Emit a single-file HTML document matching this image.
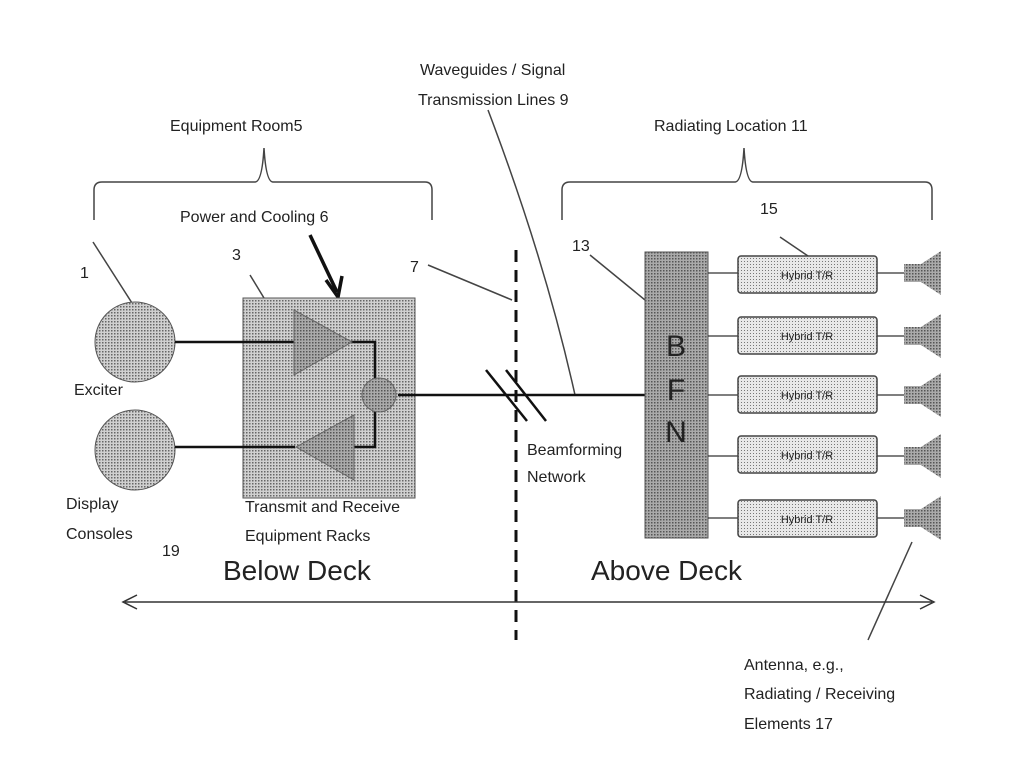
<!DOCTYPE html>
<html><head><style>body{margin:0;background:#fff}svg{display:block}text{font-family:"Liberation Sans",sans-serif;fill:#222}</style></head><body>
<svg width="1030" height="768" viewBox="0 0 1030 768" xmlns="http://www.w3.org/2000/svg">
<defs>
<pattern id="d1" width="3" height="3" patternUnits="userSpaceOnUse"><rect width="3" height="3" fill="#e8e8e8"/><rect width="1" height="1" fill="#777"/></pattern>
<pattern id="d2" width="3" height="3" patternUnits="userSpaceOnUse"><rect width="3" height="3" fill="#d0d0d0"/><rect width="1.5" height="1.5" fill="#666"/></pattern>
<pattern id="d4" width="3" height="3" patternUnits="userSpaceOnUse"><rect width="3" height="3" fill="#aaa"/><rect width="1.5" height="1.5" fill="#555"/></pattern>
</defs>
<g fill="none" stroke="#444" stroke-width="1.5">
<path d="M94,220 V190 Q94,182 102,182 H255 Q262,182 264,148 Q266,182 273,182 H425 Q432,182 432,190 V220"/>
<path d="M562,220 V190 Q562,182 570,182 H735 Q742,182 744,148 Q746,182 753,182 H925 Q932,182 932,190 V220"/>
<line x1="93" y1="242" x2="132" y2="303"/>
<line x1="250" y1="275" x2="264" y2="298"/>
<line x1="428" y1="265" x2="512" y2="300"/>
<line x1="590" y1="255" x2="645" y2="300"/>
<line x1="780" y1="237" x2="808" y2="256"/>
<path d="M488,110 Q545,260 575,395"/>
<line x1="912" y1="542" x2="868" y2="640"/>
</g>
<line x1="516" y1="250" x2="516" y2="640" stroke="#111" stroke-width="3" stroke-dasharray="12,8"/>
<line x1="310" y1="235" x2="337" y2="292" stroke="#111" stroke-width="3.5"/>
<path d="M326,280 L338,297 L342,276" fill="none" stroke="#111" stroke-width="3.5"/>
<line x1="125" y1="602" x2="932" y2="602" stroke="#333" stroke-width="1.5"/>
<path d="M137,595 L123,602 L137,609 M920,595 L934,602 L920,609" fill="none" stroke="#333" stroke-width="1.5"/>
<rect x="243" y="298" width="172" height="200" fill="url(#d2)" stroke="#555"/>
<circle cx="135" cy="342" r="40" fill="url(#d2)" stroke="#555"/>
<circle cx="135" cy="450" r="40" fill="url(#d2)" stroke="#555"/>
<g stroke="#111" stroke-width="2.5" fill="none">
<line x1="175" y1="342" x2="295" y2="342"/>
<line x1="175" y1="447" x2="295" y2="447"/>
<path d="M350,342 H375 V380 M375,410 V447 H350"/>
<line x1="398" y1="395" x2="645" y2="395"/>
<line x1="486" y1="370" x2="527" y2="421"/>
<line x1="506" y1="370" x2="546" y2="421"/>
</g>
<path d="M294,310 L352,342 L294,375 Z" fill="url(#d4)" stroke="#666"/>
<path d="M354,415 L296,447 L354,480 Z" fill="url(#d4)" stroke="#666"/>
<circle cx="379" cy="395" r="17" fill="url(#d4)" stroke="#666"/>
<rect x="645" y="252" width="63" height="286" fill="url(#d4)" stroke="#555"/>
<text x="676" y="356" font-size="30" text-anchor="middle" fill="#222">B</text>
<text x="676" y="400" font-size="30" text-anchor="middle">F</text>
<text x="676" y="442" font-size="30" text-anchor="middle">N</text>
<g stroke="#333" stroke-width="1.2">
<line x1="708" y1="273" x2="738" y2="273"/><line x1="877" y1="273" x2="904" y2="273"/>
<line x1="708" y1="336" x2="738" y2="336"/><line x1="877" y1="336" x2="904" y2="336"/>
<line x1="708" y1="395" x2="738" y2="395"/><line x1="877" y1="395" x2="904" y2="395"/>
<line x1="708" y1="456" x2="738" y2="456"/><line x1="877" y1="456" x2="904" y2="456"/>
<line x1="708" y1="518" x2="738" y2="518"/><line x1="877" y1="518" x2="904" y2="518"/>
</g>
<g fill="url(#d1)" stroke="#444" stroke-width="1.5">
<rect x="738" y="256" width="139" height="37" rx="3"/>
<rect x="738" y="317" width="139" height="37" rx="3"/>
<rect x="738" y="376" width="139" height="37" rx="3"/>
<rect x="738" y="436" width="139" height="37" rx="3"/>
<rect x="738" y="500" width="139" height="37" rx="3"/>
</g>
<g fill="url(#d4)">
<path d="M904,264 h17 l20,-13 v44 l-20,-13 h-17 Z"/>
<path d="M904,327 h17 l20,-13 v44 l-20,-13 h-17 Z"/>
<path d="M904,386 h17 l20,-13 v44 l-20,-13 h-17 Z"/>
<path d="M904,447 h17 l20,-13 v44 l-20,-13 h-17 Z"/>
<path d="M904,509 h17 l20,-13 v44 l-20,-13 h-17 Z"/>
</g>
<g font-size="11" text-anchor="middle">
<text x="807" y="279" fill="#666">Hybrid T/R</text>
<text x="807" y="340" fill="#666">Hybrid T/R</text>
<text x="807" y="399" fill="#666">Hybrid T/R</text>
<text x="807" y="459" fill="#666">Hybrid T/R</text>
<text x="807" y="523" fill="#666">Hybrid T/R</text>
</g>
<g font-size="16">
<text x="420" y="75">Waveguides / Signal</text>
<text x="418" y="105">Transmission Lines 9</text>
<text x="170" y="131">Equipment Room5</text>
<text x="654" y="131">Radiating Location 11</text>
<text x="180" y="222">Power and Cooling 6</text>
<text x="760" y="214">15</text>
<text x="572" y="251">13</text>
<text x="232" y="260">3</text>
<text x="410" y="272">7</text>
<text x="80" y="278">1</text>
<text x="74" y="395">Exciter</text>
<text x="66" y="509">Display</text>
<text x="66" y="539">Consoles</text>
<text x="162" y="556">19</text>
<text x="245" y="512">Transmit and Receive</text>
<text x="245" y="541">Equipment Racks</text>
<text x="527" y="455">Beamforming</text>
<text x="527" y="482">Network</text>
<text x="744" y="670">Antenna, e.g.,</text>
<text x="744" y="699">Radiating / Receiving</text>
<text x="744" y="729">Elements 17</text>
</g>
<text x="223" y="580" font-size="28">Below Deck</text>
<text x="591" y="580" font-size="28">Above Deck</text>
</svg>
</body></html>
